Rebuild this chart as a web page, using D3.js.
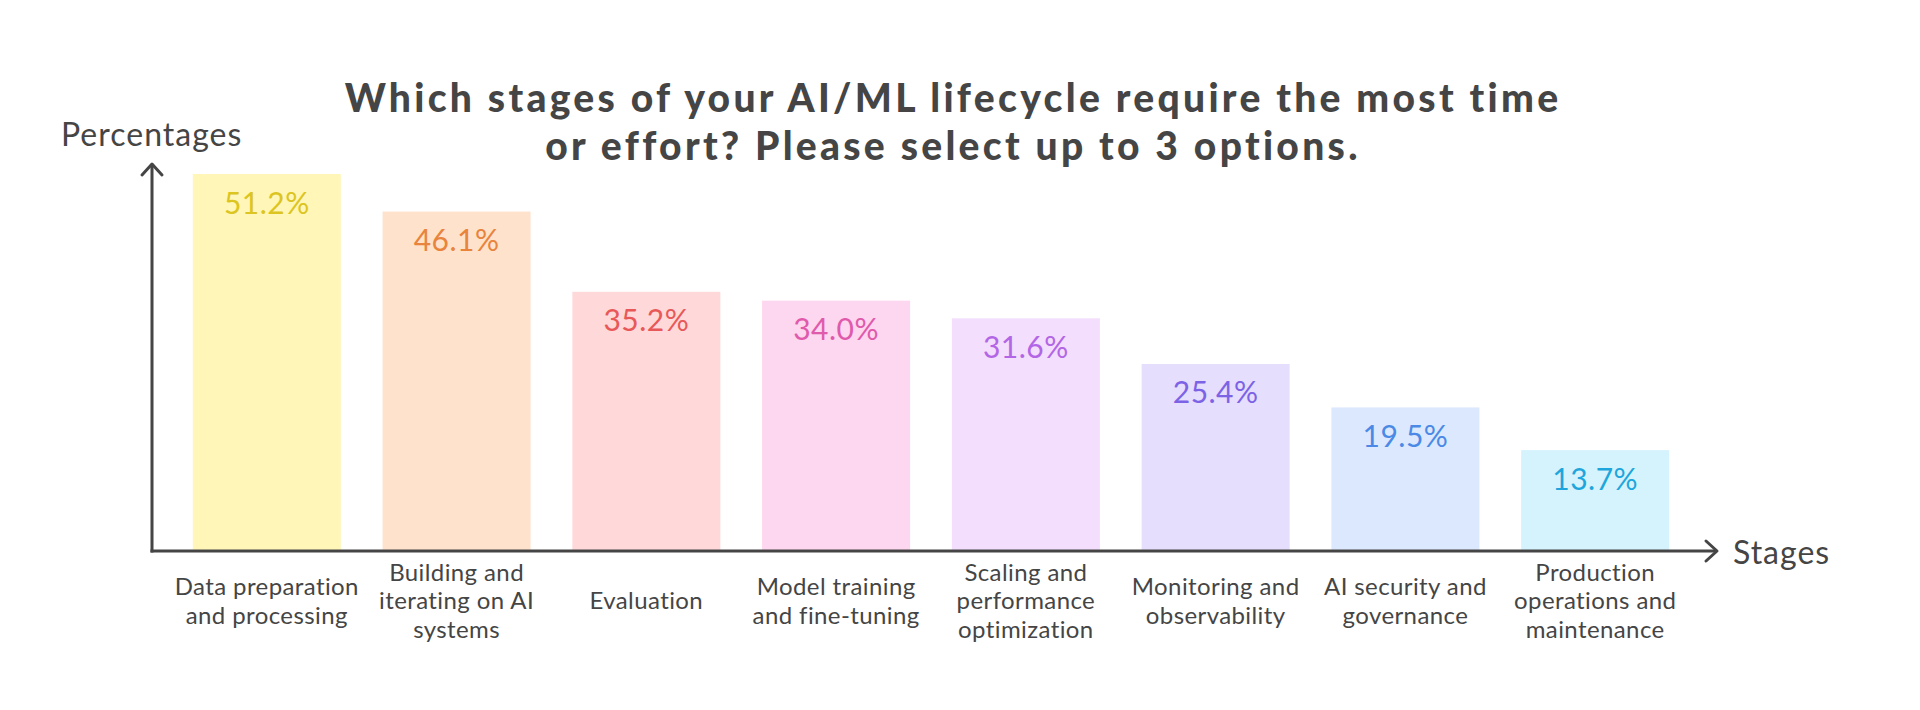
<!DOCTYPE html>
<head>
    <meta charset="UTF-8">
    <script src="https://d3js.org/d3.v7.min.js"></script>
    <style>
        body { margin: 0; background: #fff; }
        text { font-family: Lato, "Open Sans", sans-serif; }
        .title { font-weight: 900; font-size: 39px; letter-spacing: 3.3px; fill: #454545; }
        .axisLabel { font-size: 32px; letter-spacing: 1px; fill: #454545; }
        .catLabel { font-size: 24px; letter-spacing: 0.4px; fill: #454545; }
        .valLabel { font-size: 30px; letter-spacing: 0.5px; }
    </style>
</head>
<body>
    <div id="viz"></div>
    <script>
        // chart data
        const categories = [
            "Data preparation\nand processing",
            "Building and\niterating on AI\nsystems",
            "Evaluation",
            "Model training\nand fine-tuning",
            "Scaling and\nperformance\noptimization",
            "Monitoring and\nobservability",
            "AI security and\ngovernance",
            "Production\noperations and\nmaintenance"
        ];
        const values = [51.2, 46.1, 35.2, 34.0, 31.6, 25.4, 19.5, 13.7];
        const barColors = ["#fff6b8", "#ffe2cc", "#ffd9d9", "#fdd6ef", "#f4defd", "#e6defd", "#dce8fd", "#d4f3fd"];
        const textColors = ["#dcc520", "#e8843c", "#e85858", "#e05aac", "#b266e6", "#7c63e6", "#4a8ae6", "#1ea6dc"];
        const titleLines = [
            "Which stages of your AI/ML lifecycle require the most time",
            "or effort? Please select up to 3 options."
        ];

        const width = 1920;
        const height = 710;
        const origin = { x: 152, y: 551 };

        const svg = d3.select('#viz')
            .append('svg')
            .attr('width', width)
            .attr('height', height);

        const x = d3.scaleBand()
            .domain(categories)
            .range([origin.x, 1710])
            .paddingInner(0.22)
            .paddingOuter(0.215);

        const y = d3.scaleLinear()
            .domain([0, 60])
            .range([origin.y, origin.y - 60 * 7.363]);

        // bars
        const bars = svg.selectAll('.bar')
            .data(values)
            .enter()
            .append('g');

        bars.append('rect')
            .attr('x', (d, i) => x(categories[i]))
            .attr('y', d => y(d))
            .attr('width', x.bandwidth())
            .attr('height', d => y(0) - y(d))
            .attr('fill', (d, i) => barColors[i]);

        bars.append('text')
            .attr('class', 'valLabel')
            .attr('x', (d, i) => x(categories[i]) + x.bandwidth() / 2)
            .attr('y', d => y(d) + 29)
            .attr('dy', '0.35em')
            .attr('text-anchor', 'middle')
            .attr('fill', (d, i) => textColors[i])
            .text(d => d.toFixed(1) + '%');

        // category labels
        const lineH = 28.5;
        categories.forEach(c => {
            const lines = c.split('\n');
            const t = svg.append('text')
                .attr('class', 'catLabel')
                .attr('text-anchor', 'middle');
            lines.forEach((l, j) => {
                t.append('tspan')
                    .attr('x', x(c) + x.bandwidth() / 2)
                    .attr('y', 601 + (j - (lines.length - 1) / 2) * lineH)
                    .attr('dy', '0.35em')
                    .text(l);
            });
        });

        // axes with arrows
        const axisColor = '#454545';
        svg.append('line')
            .attr('x1', origin.x).attr('y1', origin.y + 1.5)
            .attr('x2', origin.x).attr('y2', 164)
            .attr('stroke', axisColor).attr('stroke-width', 3);
        svg.append('path')
            .attr('d', `M${origin.x - 10},175 L${origin.x},164 L${origin.x + 10},175`)
            .attr('fill', 'none').attr('stroke', axisColor).attr('stroke-width', 3)
            .attr('stroke-linecap', 'round').attr('stroke-linejoin', 'round');

        svg.append('line')
            .attr('x1', origin.x - 1.5).attr('y1', origin.y)
            .attr('x2', 1717).attr('y2', origin.y)
            .attr('stroke', axisColor).attr('stroke-width', 3);
        svg.append('path')
            .attr('d', `M1706,${origin.y - 10} L1717,${origin.y} L1706,${origin.y + 10}`)
            .attr('fill', 'none').attr('stroke', axisColor).attr('stroke-width', 3)
            .attr('stroke-linecap', 'round').attr('stroke-linejoin', 'round');

        svg.append('text')
            .attr('class', 'axisLabel')
            .attr('x', 61).attr('y', 146)
            .text('Percentages');

        svg.append('text')
            .attr('class', 'axisLabel')
            .attr('x', 1733).attr('y', 564)
            .text('Stages');

        // title
        svg.selectAll('.title')
            .data(titleLines)
            .enter()
            .append('text')
            .attr('class', 'title')
            .attr('x', 953)
            .attr('y', (d, i) => 112 + i * 48)
            .attr('text-anchor', 'middle')
            .text(d => d);
    </script>
</body>
</html>
